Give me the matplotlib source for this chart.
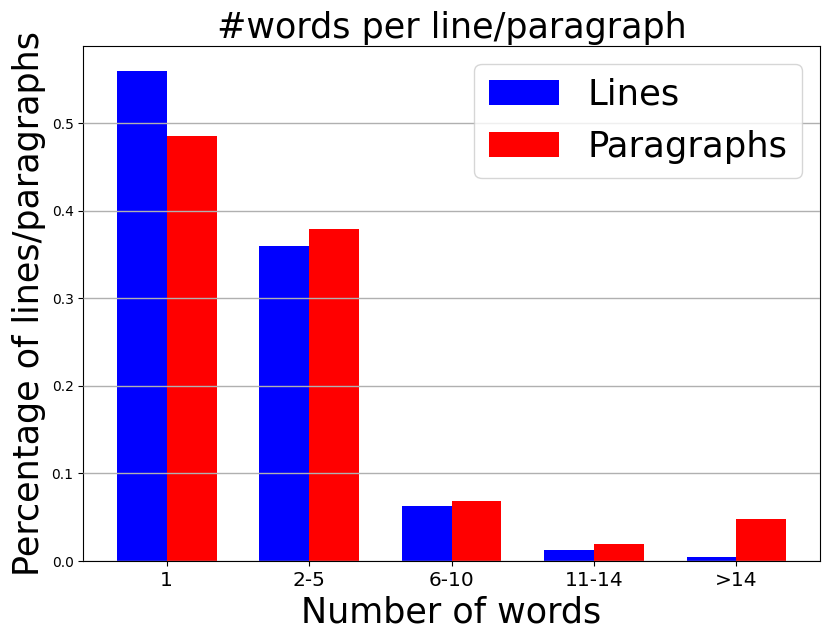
import numpy as np
import matplotlib
matplotlib.use("Agg")
import matplotlib.pyplot as plt

categories = ['1', '2-5', '6-10', '11-14', '>14']
lines_vals = [0.560, 0.360, 0.063, 0.0126, 0.0043]
para_vals = [0.485, 0.379, 0.0685, 0.019, 0.0483]

width = 0.35
x = np.arange(len(categories))

fig, ax = plt.subplots(figsize=(8.3, 6.43), dpi=100)
fig.subplots_adjust(left=0.1004, right=0.9876, top=0.9285, bottom=0.1275)

ax.bar(x - width / 2, lines_vals, width, color='blue', label='Lines')
ax.bar(x + width / 2, para_vals, width, color='red', label='Paragraphs')

ax.set_xticks(x)
ax.set_xticklabels(categories, fontsize=14.5)
ax.tick_params(axis='y', labelsize=10)
ax.yaxis.grid(True, color='#b0b0b0', linewidth=1)
ax.set_axisbelow(False)

ax.set_title('#words per line/paragraph', fontsize=25.2)
ax.set_xlabel('Number of words', fontsize=25.2)
ax.set_ylabel('Percentage of lines/paragraphs', fontsize=25.2)
ax.legend(loc='upper right', fontsize=25.5)

fig.savefig('out.png', dpi=100)
